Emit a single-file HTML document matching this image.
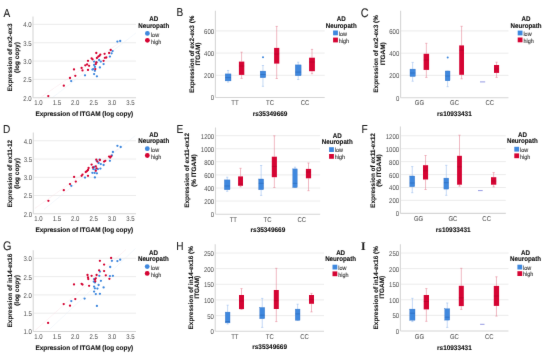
<!DOCTYPE html>
<html><head><meta charset="utf-8"><title>Figure</title>
<style>
html,body{margin:0;padding:0;background:#fff;}
body{width:550px;height:361px;overflow:hidden;font-family:"Liberation Sans",sans-serif;}
svg{display:block;} text{text-rendering:geometricPrecision;}
</style></head>
<body>
<svg width="550" height="361" viewBox="0 0 550 361">
<defs><filter id="bl" color-interpolation-filters="sRGB" x="0" y="0" width="100%" height="100%" filterUnits="userSpaceOnUse"><feConvolveMatrix order="3" kernelMatrix="1 14 1 14 196 14 1 14 1" edgeMode="duplicate" preserveAlpha="true"/></filter></defs>
<rect x="0" y="0" width="550" height="361" fill="#fff"/>
<g filter="url(#bl)">
<rect x="0" y="0" width="550" height="361" fill="#fff"/>
<line x1="33.00" y1="24.40" x2="136.00" y2="24.40" stroke="#eaeaea" stroke-width="0.9" />
<line x1="33.00" y1="42.80" x2="136.00" y2="42.80" stroke="#eaeaea" stroke-width="0.9" />
<line x1="33.00" y1="61.10" x2="136.00" y2="61.10" stroke="#eaeaea" stroke-width="0.9" />
<line x1="33.00" y1="79.40" x2="136.00" y2="79.40" stroke="#eaeaea" stroke-width="0.9" />
<line x1="38.50" y1="99.00" x2="120.00" y2="42.40" stroke="#f9e0e5" stroke-width="0.7" stroke-dasharray="0.8 0.6"/>
<line x1="52.00" y1="98.00" x2="135.50" y2="33.30" stroke="#e3ecf8" stroke-width="0.7" stroke-dasharray="0.8 0.6"/>
<line x1="33.00" y1="16.40" x2="33.00" y2="97.80" stroke="#d6d6d6" stroke-width="1.1" />
<line x1="33.00" y1="97.80" x2="136.00" y2="97.80" stroke="#d6d6d6" stroke-width="1.1" />
<text transform="translate(31.70,27.30) scale(1.0,1.17)" x="0" y="0" font-size="6.0" text-anchor="end" font-weight="normal" fill="#545454" stroke="#545454" stroke-width="0.03" font-family="Liberation Sans, sans-serif" >4.0</text>
<text transform="translate(31.70,45.70) scale(1.0,1.17)" x="0" y="0" font-size="6.0" text-anchor="end" font-weight="normal" fill="#545454" stroke="#545454" stroke-width="0.03" font-family="Liberation Sans, sans-serif" >3.5</text>
<text transform="translate(31.70,64.00) scale(1.0,1.17)" x="0" y="0" font-size="6.0" text-anchor="end" font-weight="normal" fill="#545454" stroke="#545454" stroke-width="0.03" font-family="Liberation Sans, sans-serif" >3.0</text>
<text transform="translate(31.70,82.30) scale(1.0,1.17)" x="0" y="0" font-size="6.0" text-anchor="end" font-weight="normal" fill="#545454" stroke="#545454" stroke-width="0.03" font-family="Liberation Sans, sans-serif" >2.5</text>
<text transform="translate(31.70,100.70) scale(1.0,1.17)" x="0" y="0" font-size="6.0" text-anchor="end" font-weight="normal" fill="#545454" stroke="#545454" stroke-width="0.03" font-family="Liberation Sans, sans-serif" >2.0</text>
<text transform="translate(38.40,105.30) scale(1.0,1.17)" x="0" y="0" font-size="6.0" text-anchor="middle" font-weight="normal" fill="#545454" stroke="#545454" stroke-width="0.03" font-family="Liberation Sans, sans-serif" >1.0</text>
<text transform="translate(56.80,105.30) scale(1.0,1.17)" x="0" y="0" font-size="6.0" text-anchor="middle" font-weight="normal" fill="#545454" stroke="#545454" stroke-width="0.03" font-family="Liberation Sans, sans-serif" >1.5</text>
<text transform="translate(75.20,105.30) scale(1.0,1.17)" x="0" y="0" font-size="6.0" text-anchor="middle" font-weight="normal" fill="#545454" stroke="#545454" stroke-width="0.03" font-family="Liberation Sans, sans-serif" >2.0</text>
<text transform="translate(93.60,105.30) scale(1.0,1.17)" x="0" y="0" font-size="6.0" text-anchor="middle" font-weight="normal" fill="#545454" stroke="#545454" stroke-width="0.03" font-family="Liberation Sans, sans-serif" >2.5</text>
<text transform="translate(112.00,105.30) scale(1.0,1.17)" x="0" y="0" font-size="6.0" text-anchor="middle" font-weight="normal" fill="#545454" stroke="#545454" stroke-width="0.03" font-family="Liberation Sans, sans-serif" >3.0</text>
<text transform="translate(130.40,105.30) scale(1.0,1.17)" x="0" y="0" font-size="6.0" text-anchor="middle" font-weight="normal" fill="#545454" stroke="#545454" stroke-width="0.03" font-family="Liberation Sans, sans-serif" >3.5</text>
<text transform="translate(84.30,116.20) scale(1.0,1.04)" x="0" y="0" font-size="6.45" text-anchor="middle" font-weight="bold" fill="#111" stroke="#111" stroke-width="0.1" font-family="Liberation Sans, sans-serif" >Expression of ITGAM (log copy)</text>
<text transform="translate(12.10,57.50) rotate(-90)" x="0" y="0" font-size="6.45" text-anchor="middle" font-weight="bold" fill="#111" stroke="#111" stroke-width="0.1" font-family="Liberation Sans, sans-serif">Expression of ex2-ex3</text>
<text transform="translate(18.60,57.50) rotate(-90)" x="0" y="0" font-size="6.45" text-anchor="middle" font-weight="bold" fill="#111" stroke="#111" stroke-width="0.1" font-family="Liberation Sans, sans-serif">(log copy)</text>
<circle cx="117.4" cy="41.6" r="1.15" fill="#3f88de"/>
<circle cx="120.2" cy="41.0" r="1.15" fill="#3f88de"/>
<circle cx="112.6" cy="51.1" r="1.15" fill="#3f88de"/>
<circle cx="111.6" cy="53.3" r="1.15" fill="#3f88de"/>
<circle cx="109.9" cy="56.6" r="1.15" fill="#3f88de"/>
<circle cx="103.6" cy="64.1" r="1.15" fill="#3f88de"/>
<circle cx="99.9" cy="67.4" r="1.15" fill="#3f88de"/>
<circle cx="100.8" cy="61.6" r="1.15" fill="#3f88de"/>
<circle cx="99.1" cy="60.0" r="1.15" fill="#3f88de"/>
<circle cx="96.6" cy="62.4" r="1.15" fill="#3f88de"/>
<circle cx="94.1" cy="61.6" r="1.15" fill="#3f88de"/>
<circle cx="94.1" cy="65.0" r="1.15" fill="#3f88de"/>
<circle cx="93.3" cy="69.1" r="1.15" fill="#3f88de"/>
<circle cx="92.4" cy="69.6" r="1.15" fill="#3f88de"/>
<circle cx="94.9" cy="70.8" r="1.15" fill="#3f88de"/>
<circle cx="94.1" cy="74.1" r="1.15" fill="#3f88de"/>
<circle cx="96.9" cy="76.3" r="1.15" fill="#3f88de"/>
<circle cx="94.9" cy="66.9" r="1.15" fill="#3f88de"/>
<circle cx="85.0" cy="75.3" r="1.15" fill="#3f88de"/>
<circle cx="71.2" cy="81.1" r="1.15" fill="#3f88de"/>
<circle cx="48.3" cy="96.1" r="1.15" fill="#d50433"/>
<circle cx="63.8" cy="85.7" r="1.15" fill="#d50433"/>
<circle cx="70.0" cy="78.0" r="1.15" fill="#d50433"/>
<circle cx="75.3" cy="75.8" r="1.15" fill="#d50433"/>
<circle cx="74.0" cy="69.4" r="1.15" fill="#d50433"/>
<circle cx="81.6" cy="67.9" r="1.15" fill="#d50433"/>
<circle cx="82.5" cy="70.4" r="1.15" fill="#d50433"/>
<circle cx="85.3" cy="65.3" r="1.15" fill="#d50433"/>
<circle cx="87.1" cy="64.4" r="1.15" fill="#d50433"/>
<circle cx="88.0" cy="60.8" r="1.15" fill="#d50433"/>
<circle cx="89.1" cy="65.8" r="1.15" fill="#d50433"/>
<circle cx="88.0" cy="69.9" r="1.15" fill="#d50433"/>
<circle cx="91.6" cy="58.3" r="1.15" fill="#d50433"/>
<circle cx="92.6" cy="59.3" r="1.15" fill="#d50433"/>
<circle cx="96.3" cy="53.0" r="1.15" fill="#d50433"/>
<circle cx="96.9" cy="58.0" r="1.15" fill="#d50433"/>
<circle cx="96.3" cy="62.4" r="1.15" fill="#d50433"/>
<circle cx="95.3" cy="69.1" r="1.15" fill="#d50433"/>
<circle cx="95.8" cy="64.1" r="1.15" fill="#d50433"/>
<circle cx="99.4" cy="55.8" r="1.15" fill="#d50433"/>
<circle cx="100.3" cy="54.6" r="1.15" fill="#d50433"/>
<circle cx="104.6" cy="53.8" r="1.15" fill="#d50433"/>
<circle cx="104.9" cy="57.8" r="1.15" fill="#d50433"/>
<circle cx="103.6" cy="60.8" r="1.15" fill="#d50433"/>
<circle cx="106.3" cy="57.5" r="1.15" fill="#d50433"/>
<circle cx="109.1" cy="53.0" r="1.15" fill="#d50433"/>
<circle cx="110.7" cy="50.0" r="1.15" fill="#d50433"/>
<circle cx="98.3" cy="56.6" r="1.15" fill="#d50433"/>
<text transform="translate(153.70,21.20) scale(1.0,1.1)" x="0" y="0" font-size="6.2" text-anchor="middle" font-weight="bold" fill="#111" stroke="#111" stroke-width="0.1" font-family="Liberation Sans, sans-serif" >AD</text>
<text transform="translate(153.70,27.50) scale(1.0,1.1)" x="0" y="0" font-size="6.2" text-anchor="middle" font-weight="bold" fill="#111" stroke="#111" stroke-width="0.1" font-family="Liberation Sans, sans-serif" >Neuropath</text>
<circle cx="147.40" cy="33.40" r="2.4" fill="#3f88de"/>
<circle cx="147.40" cy="40.30" r="2.4" fill="#d50433"/>
<text transform="translate(150.90,36.60) scale(1.0,1.1)" x="0" y="0" font-size="5.45" text-anchor="start" font-weight="normal" fill="#333" stroke="#333" stroke-width="0.1" font-family="Liberation Sans, sans-serif" >low</text>
<text transform="translate(150.90,43.50) scale(1.0,1.1)" x="0" y="0" font-size="5.45" text-anchor="start" font-weight="normal" fill="#333" stroke="#333" stroke-width="0.1" font-family="Liberation Sans, sans-serif" >high</text>
<text transform="translate(3.50,16.50) scale(0.87,1.0)" x="0" y="0" font-size="11.6" text-anchor="start" font-weight="normal" fill="#222" stroke="#222" stroke-width="0.1" font-family="Liberation Sans, sans-serif" >A</text>
<line x1="33.30" y1="140.80" x2="136.00" y2="140.80" stroke="#eaeaea" stroke-width="0.9" />
<line x1="33.30" y1="159.00" x2="136.00" y2="159.00" stroke="#eaeaea" stroke-width="0.9" />
<line x1="33.30" y1="177.30" x2="136.00" y2="177.30" stroke="#eaeaea" stroke-width="0.9" />
<line x1="33.30" y1="195.50" x2="136.00" y2="195.50" stroke="#eaeaea" stroke-width="0.9" />
<line x1="35.20" y1="208.20" x2="118.00" y2="149.00" stroke="#f9e0e5" stroke-width="0.7" stroke-dasharray="0.8 0.6"/>
<line x1="44.10" y1="209.30" x2="135.50" y2="135.50" stroke="#e3ecf8" stroke-width="0.7" stroke-dasharray="0.8 0.6"/>
<line x1="33.30" y1="132.50" x2="33.30" y2="213.80" stroke="#d6d6d6" stroke-width="1.1" />
<line x1="33.30" y1="213.80" x2="136.00" y2="213.80" stroke="#d6d6d6" stroke-width="1.1" />
<text transform="translate(32.00,143.70) scale(1.0,1.17)" x="0" y="0" font-size="6.0" text-anchor="end" font-weight="normal" fill="#545454" stroke="#545454" stroke-width="0.03" font-family="Liberation Sans, sans-serif" >4.0</text>
<text transform="translate(32.00,161.90) scale(1.0,1.17)" x="0" y="0" font-size="6.0" text-anchor="end" font-weight="normal" fill="#545454" stroke="#545454" stroke-width="0.03" font-family="Liberation Sans, sans-serif" >3.5</text>
<text transform="translate(32.00,180.20) scale(1.0,1.17)" x="0" y="0" font-size="6.0" text-anchor="end" font-weight="normal" fill="#545454" stroke="#545454" stroke-width="0.03" font-family="Liberation Sans, sans-serif" >3.0</text>
<text transform="translate(32.00,198.40) scale(1.0,1.17)" x="0" y="0" font-size="6.0" text-anchor="end" font-weight="normal" fill="#545454" stroke="#545454" stroke-width="0.03" font-family="Liberation Sans, sans-serif" >2.5</text>
<text transform="translate(32.00,216.70) scale(1.0,1.17)" x="0" y="0" font-size="6.0" text-anchor="end" font-weight="normal" fill="#545454" stroke="#545454" stroke-width="0.03" font-family="Liberation Sans, sans-serif" >2.0</text>
<text transform="translate(38.40,221.30) scale(1.0,1.17)" x="0" y="0" font-size="6.0" text-anchor="middle" font-weight="normal" fill="#545454" stroke="#545454" stroke-width="0.03" font-family="Liberation Sans, sans-serif" >1.0</text>
<text transform="translate(56.80,221.30) scale(1.0,1.17)" x="0" y="0" font-size="6.0" text-anchor="middle" font-weight="normal" fill="#545454" stroke="#545454" stroke-width="0.03" font-family="Liberation Sans, sans-serif" >1.5</text>
<text transform="translate(75.20,221.30) scale(1.0,1.17)" x="0" y="0" font-size="6.0" text-anchor="middle" font-weight="normal" fill="#545454" stroke="#545454" stroke-width="0.03" font-family="Liberation Sans, sans-serif" >2.0</text>
<text transform="translate(93.60,221.30) scale(1.0,1.17)" x="0" y="0" font-size="6.0" text-anchor="middle" font-weight="normal" fill="#545454" stroke="#545454" stroke-width="0.03" font-family="Liberation Sans, sans-serif" >2.5</text>
<text transform="translate(112.00,221.30) scale(1.0,1.17)" x="0" y="0" font-size="6.0" text-anchor="middle" font-weight="normal" fill="#545454" stroke="#545454" stroke-width="0.03" font-family="Liberation Sans, sans-serif" >3.0</text>
<text transform="translate(130.40,221.30) scale(1.0,1.17)" x="0" y="0" font-size="6.0" text-anchor="middle" font-weight="normal" fill="#545454" stroke="#545454" stroke-width="0.03" font-family="Liberation Sans, sans-serif" >3.5</text>
<text transform="translate(84.30,232.20) scale(1.0,1.04)" x="0" y="0" font-size="6.45" text-anchor="middle" font-weight="bold" fill="#111" stroke="#111" stroke-width="0.1" font-family="Liberation Sans, sans-serif" >Expression of ITGAM (log copy)</text>
<text transform="translate(12.10,173.70) rotate(-90)" x="0" y="0" font-size="6.45" text-anchor="middle" font-weight="bold" fill="#111" stroke="#111" stroke-width="0.1" font-family="Liberation Sans, sans-serif">Expression of ex11-12</text>
<text transform="translate(18.80,173.40) rotate(-90)" x="0" y="0" font-size="6.45" text-anchor="middle" font-weight="bold" fill="#111" stroke="#111" stroke-width="0.1" font-family="Liberation Sans, sans-serif">(log copy)</text>
<circle cx="117.4" cy="145.8" r="1.15" fill="#3f88de"/>
<circle cx="120.7" cy="147.0" r="1.15" fill="#3f88de"/>
<circle cx="112.9" cy="152.0" r="1.15" fill="#3f88de"/>
<circle cx="111.9" cy="155.3" r="1.15" fill="#3f88de"/>
<circle cx="109.9" cy="160.8" r="1.15" fill="#3f88de"/>
<circle cx="103.6" cy="165.0" r="1.15" fill="#3f88de"/>
<circle cx="100.8" cy="164.1" r="1.15" fill="#3f88de"/>
<circle cx="99.6" cy="159.6" r="1.15" fill="#3f88de"/>
<circle cx="96.6" cy="160.8" r="1.15" fill="#3f88de"/>
<circle cx="94.1" cy="167.0" r="1.15" fill="#3f88de"/>
<circle cx="93.3" cy="169.1" r="1.15" fill="#3f88de"/>
<circle cx="95.3" cy="169.6" r="1.15" fill="#3f88de"/>
<circle cx="97.9" cy="169.1" r="1.15" fill="#3f88de"/>
<circle cx="100.4" cy="168.6" r="1.15" fill="#3f88de"/>
<circle cx="92.4" cy="172.8" r="1.15" fill="#3f88de"/>
<circle cx="94.6" cy="172.9" r="1.15" fill="#3f88de"/>
<circle cx="96.9" cy="173.3" r="1.15" fill="#3f88de"/>
<circle cx="94.9" cy="177.4" r="1.15" fill="#3f88de"/>
<circle cx="85.0" cy="177.6" r="1.15" fill="#3f88de"/>
<circle cx="71.3" cy="185.8" r="1.15" fill="#3f88de"/>
<circle cx="98.6" cy="163.0" r="1.15" fill="#3f88de"/>
<circle cx="48.4" cy="200.8" r="1.15" fill="#d50433"/>
<circle cx="63.8" cy="190.2" r="1.15" fill="#d50433"/>
<circle cx="70.0" cy="184.1" r="1.15" fill="#d50433"/>
<circle cx="75.8" cy="181.6" r="1.15" fill="#d50433"/>
<circle cx="74.1" cy="176.9" r="1.15" fill="#d50433"/>
<circle cx="81.6" cy="175.8" r="1.15" fill="#d50433"/>
<circle cx="82.5" cy="174.6" r="1.15" fill="#d50433"/>
<circle cx="85.8" cy="172.0" r="1.15" fill="#d50433"/>
<circle cx="87.0" cy="171.1" r="1.15" fill="#d50433"/>
<circle cx="88.0" cy="170.0" r="1.15" fill="#d50433"/>
<circle cx="88.6" cy="168.0" r="1.15" fill="#d50433"/>
<circle cx="88.0" cy="175.8" r="1.15" fill="#d50433"/>
<circle cx="91.6" cy="164.6" r="1.15" fill="#d50433"/>
<circle cx="92.9" cy="167.5" r="1.15" fill="#d50433"/>
<circle cx="95.8" cy="166.3" r="1.15" fill="#d50433"/>
<circle cx="96.6" cy="168.3" r="1.15" fill="#d50433"/>
<circle cx="95.8" cy="170.8" r="1.15" fill="#d50433"/>
<circle cx="96.3" cy="159.6" r="1.15" fill="#d50433"/>
<circle cx="97.4" cy="161.6" r="1.15" fill="#d50433"/>
<circle cx="99.9" cy="160.0" r="1.15" fill="#d50433"/>
<circle cx="104.1" cy="161.6" r="1.15" fill="#d50433"/>
<circle cx="105.3" cy="160.8" r="1.15" fill="#d50433"/>
<circle cx="109.1" cy="156.6" r="1.15" fill="#d50433"/>
<circle cx="110.2" cy="157.5" r="1.15" fill="#d50433"/>
<circle cx="111.2" cy="156.3" r="1.15" fill="#d50433"/>
<text transform="translate(153.70,136.90) scale(1.0,1.1)" x="0" y="0" font-size="6.2" text-anchor="middle" font-weight="bold" fill="#111" stroke="#111" stroke-width="0.1" font-family="Liberation Sans, sans-serif" >AD</text>
<text transform="translate(153.70,143.20) scale(1.0,1.1)" x="0" y="0" font-size="6.2" text-anchor="middle" font-weight="bold" fill="#111" stroke="#111" stroke-width="0.1" font-family="Liberation Sans, sans-serif" >Neuropath</text>
<circle cx="147.30" cy="148.70" r="2.4" fill="#3f88de"/>
<circle cx="147.30" cy="155.50" r="2.4" fill="#d50433"/>
<text transform="translate(150.90,151.90) scale(1.0,1.1)" x="0" y="0" font-size="5.45" text-anchor="start" font-weight="normal" fill="#333" stroke="#333" stroke-width="0.1" font-family="Liberation Sans, sans-serif" >low</text>
<text transform="translate(150.90,158.70) scale(1.0,1.1)" x="0" y="0" font-size="5.45" text-anchor="start" font-weight="normal" fill="#333" stroke="#333" stroke-width="0.1" font-family="Liberation Sans, sans-serif" >high</text>
<text transform="translate(3.00,133.40) scale(0.87,1.0)" x="0" y="0" font-size="11.6" text-anchor="start" font-weight="normal" fill="#222" stroke="#222" stroke-width="0.1" font-family="Liberation Sans, sans-serif" >D</text>
<line x1="33.20" y1="258.30" x2="136.00" y2="258.30" stroke="#eaeaea" stroke-width="0.9" />
<line x1="33.20" y1="276.60" x2="136.00" y2="276.60" stroke="#eaeaea" stroke-width="0.9" />
<line x1="33.20" y1="294.90" x2="136.00" y2="294.90" stroke="#eaeaea" stroke-width="0.9" />
<line x1="33.20" y1="313.20" x2="136.00" y2="313.20" stroke="#eaeaea" stroke-width="0.9" />
<line x1="35.20" y1="330.40" x2="126.00" y2="249.50" stroke="#f9e0e5" stroke-width="0.7" stroke-dasharray="0.8 0.6"/>
<line x1="49.60" y1="329.30" x2="135.50" y2="248.50" stroke="#e3ecf8" stroke-width="0.7" stroke-dasharray="0.8 0.6"/>
<line x1="33.20" y1="250.20" x2="33.20" y2="331.50" stroke="#d6d6d6" stroke-width="1.1" />
<line x1="33.20" y1="331.50" x2="136.00" y2="331.50" stroke="#d6d6d6" stroke-width="1.1" />
<text transform="translate(31.90,261.20) scale(1.0,1.17)" x="0" y="0" font-size="6.0" text-anchor="end" font-weight="normal" fill="#545454" stroke="#545454" stroke-width="0.03" font-family="Liberation Sans, sans-serif" >3.0</text>
<text transform="translate(31.90,279.50) scale(1.0,1.17)" x="0" y="0" font-size="6.0" text-anchor="end" font-weight="normal" fill="#545454" stroke="#545454" stroke-width="0.03" font-family="Liberation Sans, sans-serif" >2.5</text>
<text transform="translate(31.90,297.80) scale(1.0,1.17)" x="0" y="0" font-size="6.0" text-anchor="end" font-weight="normal" fill="#545454" stroke="#545454" stroke-width="0.03" font-family="Liberation Sans, sans-serif" >2.0</text>
<text transform="translate(31.90,316.10) scale(1.0,1.17)" x="0" y="0" font-size="6.0" text-anchor="end" font-weight="normal" fill="#545454" stroke="#545454" stroke-width="0.03" font-family="Liberation Sans, sans-serif" >1.5</text>
<text transform="translate(31.90,334.40) scale(1.0,1.17)" x="0" y="0" font-size="6.0" text-anchor="end" font-weight="normal" fill="#545454" stroke="#545454" stroke-width="0.03" font-family="Liberation Sans, sans-serif" >1.0</text>
<text transform="translate(38.40,339.10) scale(1.0,1.17)" x="0" y="0" font-size="6.0" text-anchor="middle" font-weight="normal" fill="#545454" stroke="#545454" stroke-width="0.03" font-family="Liberation Sans, sans-serif" >1.0</text>
<text transform="translate(56.80,339.10) scale(1.0,1.17)" x="0" y="0" font-size="6.0" text-anchor="middle" font-weight="normal" fill="#545454" stroke="#545454" stroke-width="0.03" font-family="Liberation Sans, sans-serif" >1.5</text>
<text transform="translate(75.20,339.10) scale(1.0,1.17)" x="0" y="0" font-size="6.0" text-anchor="middle" font-weight="normal" fill="#545454" stroke="#545454" stroke-width="0.03" font-family="Liberation Sans, sans-serif" >2.0</text>
<text transform="translate(93.60,339.10) scale(1.0,1.17)" x="0" y="0" font-size="6.0" text-anchor="middle" font-weight="normal" fill="#545454" stroke="#545454" stroke-width="0.03" font-family="Liberation Sans, sans-serif" >2.5</text>
<text transform="translate(112.00,339.10) scale(1.0,1.17)" x="0" y="0" font-size="6.0" text-anchor="middle" font-weight="normal" fill="#545454" stroke="#545454" stroke-width="0.03" font-family="Liberation Sans, sans-serif" >3.0</text>
<text transform="translate(130.40,339.10) scale(1.0,1.17)" x="0" y="0" font-size="6.0" text-anchor="middle" font-weight="normal" fill="#545454" stroke="#545454" stroke-width="0.03" font-family="Liberation Sans, sans-serif" >3.5</text>
<text transform="translate(84.30,350.00) scale(1.0,1.04)" x="0" y="0" font-size="6.45" text-anchor="middle" font-weight="bold" fill="#111" stroke="#111" stroke-width="0.1" font-family="Liberation Sans, sans-serif" >Expression of ITGAM (log copy)</text>
<text transform="translate(12.10,290.60) rotate(-90)" x="0" y="0" font-size="6.45" text-anchor="middle" font-weight="bold" fill="#111" stroke="#111" stroke-width="0.1" font-family="Liberation Sans, sans-serif">Expression of in14-ex16</text>
<text transform="translate(18.50,290.40) rotate(-90)" x="0" y="0" font-size="6.45" text-anchor="middle" font-weight="bold" fill="#111" stroke="#111" stroke-width="0.1" font-family="Liberation Sans, sans-serif">(log copy)</text>
<circle cx="120.2" cy="259.7" r="1.15" fill="#3f88de"/>
<circle cx="117.4" cy="261.1" r="1.15" fill="#3f88de"/>
<circle cx="111.9" cy="260.8" r="1.15" fill="#3f88de"/>
<circle cx="110.2" cy="267.0" r="1.15" fill="#3f88de"/>
<circle cx="112.9" cy="275.8" r="1.15" fill="#3f88de"/>
<circle cx="109.9" cy="276.1" r="1.15" fill="#3f88de"/>
<circle cx="99.9" cy="271.6" r="1.15" fill="#3f88de"/>
<circle cx="99.3" cy="275.8" r="1.15" fill="#3f88de"/>
<circle cx="94.1" cy="279.1" r="1.15" fill="#3f88de"/>
<circle cx="93.8" cy="281.6" r="1.15" fill="#3f88de"/>
<circle cx="94.9" cy="282.4" r="1.15" fill="#3f88de"/>
<circle cx="100.9" cy="280.8" r="1.15" fill="#3f88de"/>
<circle cx="98.6" cy="285.0" r="1.15" fill="#3f88de"/>
<circle cx="94.1" cy="286.6" r="1.15" fill="#3f88de"/>
<circle cx="94.9" cy="288.3" r="1.15" fill="#3f88de"/>
<circle cx="97.4" cy="288.6" r="1.15" fill="#3f88de"/>
<circle cx="103.6" cy="287.4" r="1.15" fill="#3f88de"/>
<circle cx="94.1" cy="291.6" r="1.15" fill="#3f88de"/>
<circle cx="95.8" cy="294.1" r="1.15" fill="#3f88de"/>
<circle cx="99.9" cy="293.8" r="1.15" fill="#3f88de"/>
<circle cx="84.6" cy="298.6" r="1.15" fill="#3f88de"/>
<circle cx="71.3" cy="301.1" r="1.15" fill="#3f88de"/>
<circle cx="96.9" cy="305.9" r="1.15" fill="#3f88de"/>
<circle cx="111.1" cy="258.0" r="1.15" fill="#d50433"/>
<circle cx="99.9" cy="260.8" r="1.15" fill="#d50433"/>
<circle cx="104.1" cy="264.6" r="1.15" fill="#d50433"/>
<circle cx="99.1" cy="270.3" r="1.15" fill="#d50433"/>
<circle cx="104.1" cy="271.1" r="1.15" fill="#d50433"/>
<circle cx="105.8" cy="275.3" r="1.15" fill="#d50433"/>
<circle cx="109.4" cy="278.8" r="1.15" fill="#d50433"/>
<circle cx="96.6" cy="275.0" r="1.15" fill="#d50433"/>
<circle cx="91.6" cy="275.8" r="1.15" fill="#d50433"/>
<circle cx="87.5" cy="275.0" r="1.15" fill="#d50433"/>
<circle cx="88.0" cy="277.5" r="1.15" fill="#d50433"/>
<circle cx="88.3" cy="279.1" r="1.15" fill="#d50433"/>
<circle cx="95.8" cy="278.3" r="1.15" fill="#d50433"/>
<circle cx="94.9" cy="279.6" r="1.15" fill="#d50433"/>
<circle cx="95.3" cy="281.3" r="1.15" fill="#d50433"/>
<circle cx="81.6" cy="283.8" r="1.15" fill="#d50433"/>
<circle cx="82.5" cy="284.6" r="1.15" fill="#d50433"/>
<circle cx="74.0" cy="284.4" r="1.15" fill="#d50433"/>
<circle cx="89.1" cy="285.8" r="1.15" fill="#d50433"/>
<circle cx="75.3" cy="299.1" r="1.15" fill="#d50433"/>
<circle cx="70.0" cy="305.7" r="1.15" fill="#d50433"/>
<circle cx="63.7" cy="304.1" r="1.15" fill="#d50433"/>
<circle cx="48.1" cy="322.9" r="1.15" fill="#d50433"/>
<text transform="translate(153.40,255.00) scale(1.0,1.1)" x="0" y="0" font-size="6.2" text-anchor="middle" font-weight="bold" fill="#111" stroke="#111" stroke-width="0.1" font-family="Liberation Sans, sans-serif" >AD</text>
<text transform="translate(153.40,261.00) scale(1.0,1.1)" x="0" y="0" font-size="6.2" text-anchor="middle" font-weight="bold" fill="#111" stroke="#111" stroke-width="0.1" font-family="Liberation Sans, sans-serif" >Neuropath</text>
<circle cx="147.20" cy="266.60" r="2.4" fill="#3f88de"/>
<circle cx="147.20" cy="273.40" r="2.4" fill="#d50433"/>
<text transform="translate(150.90,269.80) scale(1.0,1.1)" x="0" y="0" font-size="5.45" text-anchor="start" font-weight="normal" fill="#333" stroke="#333" stroke-width="0.1" font-family="Liberation Sans, sans-serif" >low</text>
<text transform="translate(150.90,276.60) scale(1.0,1.1)" x="0" y="0" font-size="5.45" text-anchor="start" font-weight="normal" fill="#333" stroke="#333" stroke-width="0.1" font-family="Liberation Sans, sans-serif" >high</text>
<text transform="translate(3.00,250.40) scale(0.87,1.0)" x="0" y="0" font-size="12.5" text-anchor="start" font-weight="normal" fill="#222" stroke="#222" stroke-width="0.1" font-family="Liberation Sans, sans-serif" >G</text>
<line x1="215.40" y1="30.90" x2="324.70" y2="30.90" stroke="#eaeaea" stroke-width="0.9" />
<line x1="215.40" y1="53.10" x2="324.70" y2="53.10" stroke="#eaeaea" stroke-width="0.9" />
<line x1="215.40" y1="75.30" x2="324.70" y2="75.30" stroke="#eaeaea" stroke-width="0.9" />
<line x1="215.40" y1="10.80" x2="215.40" y2="97.50" stroke="#d6d6d6" stroke-width="1.1" />
<line x1="215.40" y1="97.50" x2="324.70" y2="97.50" stroke="#d6d6d6" stroke-width="1.1" />
<text transform="translate(214.10,33.80) scale(1.0,1.17)" x="0" y="0" font-size="6.0" text-anchor="end" font-weight="normal" fill="#545454" stroke="#545454" stroke-width="0.03" font-family="Liberation Sans, sans-serif" >600</text>
<text transform="translate(214.10,56.00) scale(1.0,1.17)" x="0" y="0" font-size="6.0" text-anchor="end" font-weight="normal" fill="#545454" stroke="#545454" stroke-width="0.03" font-family="Liberation Sans, sans-serif" >400</text>
<text transform="translate(214.10,78.20) scale(1.0,1.17)" x="0" y="0" font-size="6.0" text-anchor="end" font-weight="normal" fill="#545454" stroke="#545454" stroke-width="0.03" font-family="Liberation Sans, sans-serif" >200</text>
<text transform="translate(214.10,100.40) scale(1.0,1.17)" x="0" y="0" font-size="6.0" text-anchor="end" font-weight="normal" fill="#545454" stroke="#545454" stroke-width="0.03" font-family="Liberation Sans, sans-serif" >0</text>
<text transform="translate(235.00,104.90) scale(1.0,1.17)" x="0" y="0" font-size="6.0" text-anchor="middle" font-weight="normal" fill="#545454" stroke="#545454" stroke-width="0.03" font-family="Liberation Sans, sans-serif" >TT</text>
<text transform="translate(270.00,104.90) scale(1.0,1.17)" x="0" y="0" font-size="6.0" text-anchor="middle" font-weight="normal" fill="#545454" stroke="#545454" stroke-width="0.03" font-family="Liberation Sans, sans-serif" >TC</text>
<text transform="translate(305.00,104.90) scale(1.0,1.17)" x="0" y="0" font-size="6.0" text-anchor="middle" font-weight="normal" fill="#545454" stroke="#545454" stroke-width="0.03" font-family="Liberation Sans, sans-serif" >CC</text>
<text transform="translate(270.00,115.60) scale(1.0,1.04)" x="0" y="0" font-size="6.45" text-anchor="middle" font-weight="bold" fill="#111" stroke="#111" stroke-width="0.1" font-family="Liberation Sans, sans-serif" >rs35349669</text>
<text transform="translate(193.60,54.30) rotate(-90)" x="0" y="0" font-size="6.45" text-anchor="middle" font-weight="bold" fill="#111" stroke="#111" stroke-width="0.1" font-family="Liberation Sans, sans-serif">Expression of ex2-ex3 (%</text>
<text transform="translate(200.00,54.00) rotate(-90)" x="0" y="0" font-size="6.45" text-anchor="middle" font-weight="bold" fill="#111" stroke="#111" stroke-width="0.1" font-family="Liberation Sans, sans-serif">ITGAM)</text>
<line x1="228.10" y1="70.50" x2="228.10" y2="73.90" stroke="#9dbfee" stroke-width="0.6" />
<line x1="228.10" y1="80.90" x2="228.10" y2="82.10" stroke="#9dbfee" stroke-width="0.6" />
<line x1="227.00" y1="70.50" x2="229.20" y2="70.50" stroke="#9dbfee" stroke-width="0.6" />
<line x1="227.00" y1="82.10" x2="229.20" y2="82.10" stroke="#9dbfee" stroke-width="0.6" />
<rect x="225.20" y="73.90" width="5.80" height="7.00" fill="#3f88de" stroke="#2f70c4" stroke-width="0.35"/>
<line x1="225.20" y1="77.60" x2="231.00" y2="77.60" stroke="#1d4f9a80" stroke-width="0.7" />
<line x1="241.60" y1="52.20" x2="241.60" y2="61.60" stroke="#e58a9b" stroke-width="0.6" />
<line x1="241.60" y1="74.90" x2="241.60" y2="78.40" stroke="#e58a9b" stroke-width="0.6" />
<line x1="240.50" y1="52.20" x2="242.70" y2="52.20" stroke="#e58a9b" stroke-width="0.6" />
<line x1="240.50" y1="78.40" x2="242.70" y2="78.40" stroke="#e58a9b" stroke-width="0.6" />
<rect x="238.90" y="61.60" width="5.40" height="13.30" fill="#d50433" />
<line x1="238.90" y1="66.00" x2="244.30" y2="66.00" stroke="#7a001c55" stroke-width="0.7" />
<line x1="262.95" y1="65.50" x2="262.95" y2="71.10" stroke="#9dbfee" stroke-width="0.6" />
<line x1="262.95" y1="77.70" x2="262.95" y2="86.30" stroke="#9dbfee" stroke-width="0.6" />
<line x1="261.85" y1="65.50" x2="264.05" y2="65.50" stroke="#9dbfee" stroke-width="0.6" />
<line x1="261.85" y1="86.30" x2="264.05" y2="86.30" stroke="#9dbfee" stroke-width="0.6" />
<rect x="260.20" y="71.10" width="5.50" height="6.60" fill="#3f88de" stroke="#2f70c4" stroke-width="0.35"/>
<line x1="260.20" y1="74.50" x2="265.70" y2="74.50" stroke="#1d4f9a80" stroke-width="0.7" />
<circle cx="263.0" cy="57.2" r="1.0" fill="#3f88de"/>
<line x1="276.70" y1="26.40" x2="276.70" y2="47.90" stroke="#e58a9b" stroke-width="0.6" />
<line x1="276.70" y1="63.60" x2="276.70" y2="78.50" stroke="#e58a9b" stroke-width="0.6" />
<line x1="275.60" y1="26.40" x2="277.80" y2="26.40" stroke="#e58a9b" stroke-width="0.6" />
<line x1="275.60" y1="78.50" x2="277.80" y2="78.50" stroke="#e58a9b" stroke-width="0.6" />
<rect x="274.10" y="47.90" width="5.20" height="15.70" fill="#d50433" />
<line x1="274.10" y1="54.00" x2="279.30" y2="54.00" stroke="#7a001c55" stroke-width="0.7" />
<line x1="298.20" y1="62.20" x2="298.20" y2="64.90" stroke="#9dbfee" stroke-width="0.6" />
<line x1="298.20" y1="75.70" x2="298.20" y2="79.50" stroke="#9dbfee" stroke-width="0.6" />
<line x1="297.10" y1="62.20" x2="299.30" y2="62.20" stroke="#9dbfee" stroke-width="0.6" />
<line x1="297.10" y1="79.50" x2="299.30" y2="79.50" stroke="#9dbfee" stroke-width="0.6" />
<rect x="295.30" y="64.90" width="5.80" height="10.80" fill="#3f88de" stroke="#2f70c4" stroke-width="0.35"/>
<line x1="295.30" y1="72.10" x2="301.10" y2="72.10" stroke="#1d4f9a80" stroke-width="0.7" />
<line x1="312.00" y1="49.40" x2="312.00" y2="57.70" stroke="#e58a9b" stroke-width="0.6" />
<line x1="312.00" y1="71.20" x2="312.00" y2="73.70" stroke="#e58a9b" stroke-width="0.6" />
<line x1="310.90" y1="49.40" x2="313.10" y2="49.40" stroke="#e58a9b" stroke-width="0.6" />
<line x1="310.90" y1="73.70" x2="313.10" y2="73.70" stroke="#e58a9b" stroke-width="0.6" />
<rect x="309.10" y="57.70" width="5.80" height="13.50" fill="#d50433" />
<line x1="309.10" y1="62.00" x2="314.90" y2="62.00" stroke="#7a001c55" stroke-width="0.7" />
<text transform="translate(341.20,21.20) scale(1.0,1.1)" x="0" y="0" font-size="6.2" text-anchor="middle" font-weight="bold" fill="#111" stroke="#111" stroke-width="0.1" font-family="Liberation Sans, sans-serif" >AD</text>
<text transform="translate(341.20,27.50) scale(1.0,1.1)" x="0" y="0" font-size="6.2" text-anchor="middle" font-weight="bold" fill="#111" stroke="#111" stroke-width="0.1" font-family="Liberation Sans, sans-serif" >Neuropath</text>
<rect x="333.10" y="30.50" width="4.80" height="4.80" fill="#3f88de" />
<rect x="333.10" y="37.60" width="4.80" height="4.80" fill="#d50433" />
<text transform="translate(338.80,35.60) scale(1.0,1.1)" x="0" y="0" font-size="5.45" text-anchor="start" font-weight="normal" fill="#333" stroke="#333" stroke-width="0.1" font-family="Liberation Sans, sans-serif" >low</text>
<text transform="translate(338.80,42.70) scale(1.0,1.1)" x="0" y="0" font-size="5.45" text-anchor="start" font-weight="normal" fill="#333" stroke="#333" stroke-width="0.1" font-family="Liberation Sans, sans-serif" >high</text>
<text transform="translate(176.60,16.10) scale(0.87,1.0)" x="0" y="0" font-size="11.6" text-anchor="start" font-weight="normal" fill="#222" stroke="#222" stroke-width="0.1" font-family="Liberation Sans, sans-serif" >B</text>
<line x1="400.60" y1="30.90" x2="508.50" y2="30.90" stroke="#eaeaea" stroke-width="0.9" />
<line x1="400.60" y1="53.20" x2="508.50" y2="53.20" stroke="#eaeaea" stroke-width="0.9" />
<line x1="400.60" y1="75.40" x2="508.50" y2="75.40" stroke="#eaeaea" stroke-width="0.9" />
<line x1="400.60" y1="10.80" x2="400.60" y2="97.70" stroke="#d6d6d6" stroke-width="1.1" />
<line x1="400.60" y1="97.70" x2="508.50" y2="97.70" stroke="#d6d6d6" stroke-width="1.1" />
<text transform="translate(399.30,33.80) scale(1.0,1.17)" x="0" y="0" font-size="6.0" text-anchor="end" font-weight="normal" fill="#545454" stroke="#545454" stroke-width="0.03" font-family="Liberation Sans, sans-serif" >600</text>
<text transform="translate(399.30,56.10) scale(1.0,1.17)" x="0" y="0" font-size="6.0" text-anchor="end" font-weight="normal" fill="#545454" stroke="#545454" stroke-width="0.03" font-family="Liberation Sans, sans-serif" >400</text>
<text transform="translate(399.30,78.30) scale(1.0,1.17)" x="0" y="0" font-size="6.0" text-anchor="end" font-weight="normal" fill="#545454" stroke="#545454" stroke-width="0.03" font-family="Liberation Sans, sans-serif" >200</text>
<text transform="translate(399.30,100.60) scale(1.0,1.17)" x="0" y="0" font-size="6.0" text-anchor="end" font-weight="normal" fill="#545454" stroke="#545454" stroke-width="0.03" font-family="Liberation Sans, sans-serif" >0</text>
<text transform="translate(419.50,104.90) scale(1.0,1.17)" x="0" y="0" font-size="6.0" text-anchor="middle" font-weight="normal" fill="#545454" stroke="#545454" stroke-width="0.03" font-family="Liberation Sans, sans-serif" >GG</text>
<text transform="translate(454.50,104.90) scale(1.0,1.17)" x="0" y="0" font-size="6.0" text-anchor="middle" font-weight="normal" fill="#545454" stroke="#545454" stroke-width="0.03" font-family="Liberation Sans, sans-serif" >GC</text>
<text transform="translate(489.80,104.90) scale(1.0,1.17)" x="0" y="0" font-size="6.0" text-anchor="middle" font-weight="normal" fill="#545454" stroke="#545454" stroke-width="0.03" font-family="Liberation Sans, sans-serif" >CC</text>
<text transform="translate(454.40,116.00) scale(1.0,1.04)" x="0" y="0" font-size="6.45" text-anchor="middle" font-weight="bold" fill="#111" stroke="#111" stroke-width="0.1" font-family="Liberation Sans, sans-serif" >rs10933431</text>
<text transform="translate(378.40,53.90) rotate(-90)" x="0" y="0" font-size="6.45" text-anchor="middle" font-weight="bold" fill="#111" stroke="#111" stroke-width="0.1" font-family="Liberation Sans, sans-serif">Expression of ex2-ex3 (%</text>
<text transform="translate(384.80,53.70) rotate(-90)" x="0" y="0" font-size="6.45" text-anchor="middle" font-weight="bold" fill="#111" stroke="#111" stroke-width="0.1" font-family="Liberation Sans, sans-serif">ITGAM)</text>
<line x1="412.65" y1="62.40" x2="412.65" y2="69.10" stroke="#9dbfee" stroke-width="0.6" />
<line x1="412.65" y1="76.50" x2="412.65" y2="81.20" stroke="#9dbfee" stroke-width="0.6" />
<line x1="411.55" y1="62.40" x2="413.75" y2="62.40" stroke="#9dbfee" stroke-width="0.6" />
<line x1="411.55" y1="81.20" x2="413.75" y2="81.20" stroke="#9dbfee" stroke-width="0.6" />
<rect x="410.00" y="69.10" width="5.30" height="7.40" fill="#3f88de" stroke="#2f70c4" stroke-width="0.35"/>
<line x1="410.00" y1="73.00" x2="415.30" y2="73.00" stroke="#1d4f9a80" stroke-width="0.7" />
<line x1="426.35" y1="43.30" x2="426.35" y2="53.80" stroke="#e58a9b" stroke-width="0.6" />
<line x1="426.35" y1="69.90" x2="426.35" y2="77.40" stroke="#e58a9b" stroke-width="0.6" />
<line x1="425.25" y1="43.30" x2="427.45" y2="43.30" stroke="#e58a9b" stroke-width="0.6" />
<line x1="425.25" y1="77.40" x2="427.45" y2="77.40" stroke="#e58a9b" stroke-width="0.6" />
<rect x="423.60" y="53.80" width="5.50" height="16.10" fill="#d50433" />
<line x1="423.60" y1="60.00" x2="429.10" y2="60.00" stroke="#7a001c55" stroke-width="0.7" />
<line x1="447.60" y1="71.00" x2="447.60" y2="71.00" stroke="#9dbfee" stroke-width="0.6" />
<line x1="447.60" y1="80.80" x2="447.60" y2="86.70" stroke="#9dbfee" stroke-width="0.6" />
<line x1="446.50" y1="71.00" x2="448.70" y2="71.00" stroke="#9dbfee" stroke-width="0.6" />
<line x1="446.50" y1="86.70" x2="448.70" y2="86.70" stroke="#9dbfee" stroke-width="0.6" />
<rect x="445.20" y="71.00" width="4.80" height="9.80" fill="#3f88de" stroke="#2f70c4" stroke-width="0.35"/>
<line x1="445.20" y1="76.00" x2="450.00" y2="76.00" stroke="#1d4f9a80" stroke-width="0.7" />
<circle cx="447.7" cy="57.5" r="1.0" fill="#3f88de"/>
<line x1="461.60" y1="26.30" x2="461.60" y2="45.40" stroke="#e58a9b" stroke-width="0.6" />
<line x1="461.60" y1="74.80" x2="461.60" y2="78.80" stroke="#e58a9b" stroke-width="0.6" />
<line x1="460.50" y1="26.30" x2="462.70" y2="26.30" stroke="#e58a9b" stroke-width="0.6" />
<line x1="460.50" y1="78.80" x2="462.70" y2="78.80" stroke="#e58a9b" stroke-width="0.6" />
<rect x="459.20" y="45.40" width="4.80" height="29.40" fill="#d50433" />
<line x1="459.20" y1="50.20" x2="464.00" y2="50.20" stroke="#7a001c55" stroke-width="0.7" />
<line x1="480.00" y1="81.90" x2="485.20" y2="81.90" stroke="#8a8fe0" stroke-width="0.9" />
<line x1="496.55" y1="62.20" x2="496.55" y2="65.00" stroke="#e58a9b" stroke-width="0.6" />
<line x1="496.55" y1="72.90" x2="496.55" y2="77.40" stroke="#e58a9b" stroke-width="0.6" />
<line x1="495.45" y1="62.20" x2="497.65" y2="62.20" stroke="#e58a9b" stroke-width="0.6" />
<line x1="495.45" y1="77.40" x2="497.65" y2="77.40" stroke="#e58a9b" stroke-width="0.6" />
<rect x="494.00" y="65.00" width="5.10" height="7.90" fill="#d50433" />
<line x1="494.00" y1="69.00" x2="499.10" y2="69.00" stroke="#7a001c55" stroke-width="0.7" />
<text transform="translate(526.00,21.20) scale(1.0,1.1)" x="0" y="0" font-size="6.2" text-anchor="middle" font-weight="bold" fill="#111" stroke="#111" stroke-width="0.1" font-family="Liberation Sans, sans-serif" >AD</text>
<text transform="translate(526.00,27.50) scale(1.0,1.1)" x="0" y="0" font-size="6.2" text-anchor="middle" font-weight="bold" fill="#111" stroke="#111" stroke-width="0.1" font-family="Liberation Sans, sans-serif" >Neuropath</text>
<rect x="517.70" y="30.60" width="4.80" height="4.80" fill="#3f88de" />
<rect x="517.70" y="37.50" width="4.80" height="4.80" fill="#d50433" />
<text transform="translate(523.40,35.70) scale(1.0,1.1)" x="0" y="0" font-size="5.45" text-anchor="start" font-weight="normal" fill="#333" stroke="#333" stroke-width="0.1" font-family="Liberation Sans, sans-serif" >low</text>
<text transform="translate(523.40,42.60) scale(1.0,1.1)" x="0" y="0" font-size="5.45" text-anchor="start" font-weight="normal" fill="#333" stroke="#333" stroke-width="0.1" font-family="Liberation Sans, sans-serif" >high</text>
<text transform="translate(360.80,17.00) scale(0.87,1.0)" x="0" y="0" font-size="12.5" text-anchor="start" font-weight="normal" fill="#222" stroke="#222" stroke-width="0.1" font-family="Liberation Sans, sans-serif" >C</text>
<line x1="215.50" y1="135.70" x2="320.20" y2="135.70" stroke="#eaeaea" stroke-width="0.9" />
<line x1="215.50" y1="148.80" x2="320.20" y2="148.80" stroke="#eaeaea" stroke-width="0.9" />
<line x1="215.50" y1="161.80" x2="320.20" y2="161.80" stroke="#eaeaea" stroke-width="0.9" />
<line x1="215.50" y1="174.90" x2="320.20" y2="174.90" stroke="#eaeaea" stroke-width="0.9" />
<line x1="215.50" y1="188.00" x2="320.20" y2="188.00" stroke="#eaeaea" stroke-width="0.9" />
<line x1="215.50" y1="201.00" x2="320.20" y2="201.00" stroke="#eaeaea" stroke-width="0.9" />
<line x1="215.50" y1="127.50" x2="215.50" y2="214.20" stroke="#d6d6d6" stroke-width="1.1" />
<line x1="215.50" y1="214.20" x2="320.20" y2="214.20" stroke="#d6d6d6" stroke-width="1.1" />
<text transform="translate(214.20,138.60) scale(1.0,1.17)" x="0" y="0" font-size="6.0" text-anchor="end" font-weight="normal" fill="#545454" stroke="#545454" stroke-width="0.03" font-family="Liberation Sans, sans-serif" >1200</text>
<text transform="translate(214.20,151.70) scale(1.0,1.17)" x="0" y="0" font-size="6.0" text-anchor="end" font-weight="normal" fill="#545454" stroke="#545454" stroke-width="0.03" font-family="Liberation Sans, sans-serif" >1000</text>
<text transform="translate(214.20,164.70) scale(1.0,1.17)" x="0" y="0" font-size="6.0" text-anchor="end" font-weight="normal" fill="#545454" stroke="#545454" stroke-width="0.03" font-family="Liberation Sans, sans-serif" >800</text>
<text transform="translate(214.20,177.80) scale(1.0,1.17)" x="0" y="0" font-size="6.0" text-anchor="end" font-weight="normal" fill="#545454" stroke="#545454" stroke-width="0.03" font-family="Liberation Sans, sans-serif" >600</text>
<text transform="translate(214.20,190.90) scale(1.0,1.17)" x="0" y="0" font-size="6.0" text-anchor="end" font-weight="normal" fill="#545454" stroke="#545454" stroke-width="0.03" font-family="Liberation Sans, sans-serif" >400</text>
<text transform="translate(214.20,203.90) scale(1.0,1.17)" x="0" y="0" font-size="6.0" text-anchor="end" font-weight="normal" fill="#545454" stroke="#545454" stroke-width="0.03" font-family="Liberation Sans, sans-serif" >200</text>
<text transform="translate(214.20,217.00) scale(1.0,1.17)" x="0" y="0" font-size="6.0" text-anchor="end" font-weight="normal" fill="#545454" stroke="#545454" stroke-width="0.03" font-family="Liberation Sans, sans-serif" >0</text>
<text transform="translate(233.30,221.80) scale(1.0,1.17)" x="0" y="0" font-size="6.0" text-anchor="middle" font-weight="normal" fill="#545454" stroke="#545454" stroke-width="0.03" font-family="Liberation Sans, sans-serif" >TT</text>
<text transform="translate(267.60,221.80) scale(1.0,1.17)" x="0" y="0" font-size="6.0" text-anchor="middle" font-weight="normal" fill="#545454" stroke="#545454" stroke-width="0.03" font-family="Liberation Sans, sans-serif" >TC</text>
<text transform="translate(301.80,221.80) scale(1.0,1.17)" x="0" y="0" font-size="6.0" text-anchor="middle" font-weight="normal" fill="#545454" stroke="#545454" stroke-width="0.03" font-family="Liberation Sans, sans-serif" >CC</text>
<text transform="translate(267.90,232.30) scale(1.0,1.04)" x="0" y="0" font-size="6.45" text-anchor="middle" font-weight="bold" fill="#111" stroke="#111" stroke-width="0.1" font-family="Liberation Sans, sans-serif" >rs35349669</text>
<text transform="translate(189.40,170.40) rotate(-90)" x="0" y="0" font-size="6.45" text-anchor="middle" font-weight="bold" fill="#111" stroke="#111" stroke-width="0.1" font-family="Liberation Sans, sans-serif">Expression of ex11-ex12</text>
<text transform="translate(195.90,170.60) rotate(-90)" x="0" y="0" font-size="6.45" text-anchor="middle" font-weight="bold" fill="#111" stroke="#111" stroke-width="0.1" font-family="Liberation Sans, sans-serif">(% ITGAM)</text>
<line x1="227.20" y1="177.20" x2="227.20" y2="179.90" stroke="#9dbfee" stroke-width="0.6" />
<line x1="227.20" y1="189.70" x2="227.20" y2="191.30" stroke="#9dbfee" stroke-width="0.6" />
<line x1="226.10" y1="177.20" x2="228.30" y2="177.20" stroke="#9dbfee" stroke-width="0.6" />
<line x1="226.10" y1="191.30" x2="228.30" y2="191.30" stroke="#9dbfee" stroke-width="0.6" />
<rect x="224.40" y="179.90" width="5.60" height="9.80" fill="#3f88de" stroke="#2f70c4" stroke-width="0.35"/>
<line x1="224.40" y1="186.00" x2="230.00" y2="186.00" stroke="#1d4f9a80" stroke-width="0.7" />
<line x1="240.55" y1="168.30" x2="240.55" y2="176.40" stroke="#e58a9b" stroke-width="0.6" />
<line x1="240.55" y1="185.80" x2="240.55" y2="186.80" stroke="#e58a9b" stroke-width="0.6" />
<line x1="239.45" y1="168.30" x2="241.65" y2="168.30" stroke="#e58a9b" stroke-width="0.6" />
<line x1="239.45" y1="186.80" x2="241.65" y2="186.80" stroke="#e58a9b" stroke-width="0.6" />
<rect x="238.10" y="176.40" width="4.90" height="9.40" fill="#d50433" />
<line x1="238.10" y1="184.10" x2="243.00" y2="184.10" stroke="#7a001c55" stroke-width="0.7" />
<line x1="261.15" y1="165.50" x2="261.15" y2="179.00" stroke="#9dbfee" stroke-width="0.6" />
<line x1="261.15" y1="189.70" x2="261.15" y2="195.40" stroke="#9dbfee" stroke-width="0.6" />
<line x1="260.05" y1="165.50" x2="262.25" y2="165.50" stroke="#9dbfee" stroke-width="0.6" />
<line x1="260.05" y1="195.40" x2="262.25" y2="195.40" stroke="#9dbfee" stroke-width="0.6" />
<rect x="258.70" y="179.00" width="4.90" height="10.70" fill="#3f88de" stroke="#2f70c4" stroke-width="0.35"/>
<line x1="258.70" y1="183.30" x2="263.60" y2="183.30" stroke="#1d4f9a80" stroke-width="0.7" />
<line x1="274.35" y1="135.80" x2="274.35" y2="156.70" stroke="#e58a9b" stroke-width="0.6" />
<line x1="274.35" y1="177.20" x2="274.35" y2="187.50" stroke="#e58a9b" stroke-width="0.6" />
<line x1="273.25" y1="135.80" x2="275.45" y2="135.80" stroke="#e58a9b" stroke-width="0.6" />
<line x1="273.25" y1="187.50" x2="275.45" y2="187.50" stroke="#e58a9b" stroke-width="0.6" />
<rect x="271.80" y="156.70" width="5.10" height="20.50" fill="#d50433" />
<line x1="271.80" y1="166.40" x2="276.90" y2="166.40" stroke="#7a001c55" stroke-width="0.7" />
<line x1="295.00" y1="167.20" x2="295.00" y2="168.90" stroke="#9dbfee" stroke-width="0.6" />
<line x1="295.00" y1="187.50" x2="295.00" y2="187.50" stroke="#9dbfee" stroke-width="0.6" />
<line x1="293.90" y1="167.20" x2="296.10" y2="167.20" stroke="#9dbfee" stroke-width="0.6" />
<line x1="293.90" y1="187.50" x2="296.10" y2="187.50" stroke="#9dbfee" stroke-width="0.6" />
<rect x="292.80" y="168.90" width="4.40" height="18.60" fill="#3f88de" stroke="#2f70c4" stroke-width="0.35"/>
<line x1="292.80" y1="183.40" x2="297.20" y2="183.40" stroke="#1d4f9a80" stroke-width="0.7" />
<line x1="308.50" y1="163.00" x2="308.50" y2="168.90" stroke="#e58a9b" stroke-width="0.6" />
<line x1="308.50" y1="178.30" x2="308.50" y2="190.70" stroke="#e58a9b" stroke-width="0.6" />
<line x1="307.40" y1="163.00" x2="309.60" y2="163.00" stroke="#e58a9b" stroke-width="0.6" />
<line x1="307.40" y1="190.70" x2="309.60" y2="190.70" stroke="#e58a9b" stroke-width="0.6" />
<rect x="305.90" y="168.90" width="5.20" height="9.40" fill="#d50433" />
<line x1="305.90" y1="172.00" x2="311.10" y2="172.00" stroke="#7a001c55" stroke-width="0.7" />
<text transform="translate(337.20,137.90) scale(1.0,1.1)" x="0" y="0" font-size="6.2" text-anchor="middle" font-weight="bold" fill="#111" stroke="#111" stroke-width="0.1" font-family="Liberation Sans, sans-serif" >AD</text>
<text transform="translate(337.20,144.10) scale(1.0,1.1)" x="0" y="0" font-size="6.2" text-anchor="middle" font-weight="bold" fill="#111" stroke="#111" stroke-width="0.1" font-family="Liberation Sans, sans-serif" >Neuropath</text>
<rect x="329.10" y="147.20" width="4.80" height="4.80" fill="#3f88de" />
<rect x="329.10" y="154.00" width="4.80" height="4.80" fill="#d50433" />
<text transform="translate(334.80,152.30) scale(1.0,1.1)" x="0" y="0" font-size="5.45" text-anchor="start" font-weight="normal" fill="#333" stroke="#333" stroke-width="0.1" font-family="Liberation Sans, sans-serif" >low</text>
<text transform="translate(334.80,159.10) scale(1.0,1.1)" x="0" y="0" font-size="5.45" text-anchor="start" font-weight="normal" fill="#333" stroke="#333" stroke-width="0.1" font-family="Liberation Sans, sans-serif" >high</text>
<text transform="translate(176.40,132.60) scale(0.87,1.0)" x="0" y="0" font-size="11.6" text-anchor="start" font-weight="normal" fill="#222" stroke="#222" stroke-width="0.1" font-family="Liberation Sans, sans-serif" >E</text>
<line x1="400.40" y1="135.80" x2="505.80" y2="135.80" stroke="#eaeaea" stroke-width="0.9" />
<line x1="400.40" y1="148.70" x2="505.80" y2="148.70" stroke="#eaeaea" stroke-width="0.9" />
<line x1="400.40" y1="161.60" x2="505.80" y2="161.60" stroke="#eaeaea" stroke-width="0.9" />
<line x1="400.40" y1="174.60" x2="505.80" y2="174.60" stroke="#eaeaea" stroke-width="0.9" />
<line x1="400.40" y1="187.50" x2="505.80" y2="187.50" stroke="#eaeaea" stroke-width="0.9" />
<line x1="400.40" y1="200.40" x2="505.80" y2="200.40" stroke="#eaeaea" stroke-width="0.9" />
<line x1="400.40" y1="126.60" x2="400.40" y2="213.40" stroke="#d6d6d6" stroke-width="1.1" />
<line x1="400.40" y1="213.40" x2="505.80" y2="213.40" stroke="#d6d6d6" stroke-width="1.1" />
<text transform="translate(399.10,138.70) scale(1.0,1.17)" x="0" y="0" font-size="6.0" text-anchor="end" font-weight="normal" fill="#545454" stroke="#545454" stroke-width="0.03" font-family="Liberation Sans, sans-serif" >1200</text>
<text transform="translate(399.10,151.60) scale(1.0,1.17)" x="0" y="0" font-size="6.0" text-anchor="end" font-weight="normal" fill="#545454" stroke="#545454" stroke-width="0.03" font-family="Liberation Sans, sans-serif" >1000</text>
<text transform="translate(399.10,164.50) scale(1.0,1.17)" x="0" y="0" font-size="6.0" text-anchor="end" font-weight="normal" fill="#545454" stroke="#545454" stroke-width="0.03" font-family="Liberation Sans, sans-serif" >800</text>
<text transform="translate(399.10,177.50) scale(1.0,1.17)" x="0" y="0" font-size="6.0" text-anchor="end" font-weight="normal" fill="#545454" stroke="#545454" stroke-width="0.03" font-family="Liberation Sans, sans-serif" >600</text>
<text transform="translate(399.10,190.40) scale(1.0,1.17)" x="0" y="0" font-size="6.0" text-anchor="end" font-weight="normal" fill="#545454" stroke="#545454" stroke-width="0.03" font-family="Liberation Sans, sans-serif" >400</text>
<text transform="translate(399.10,203.30) scale(1.0,1.17)" x="0" y="0" font-size="6.0" text-anchor="end" font-weight="normal" fill="#545454" stroke="#545454" stroke-width="0.03" font-family="Liberation Sans, sans-serif" >200</text>
<text transform="translate(399.10,216.30) scale(1.0,1.17)" x="0" y="0" font-size="6.0" text-anchor="end" font-weight="normal" fill="#545454" stroke="#545454" stroke-width="0.03" font-family="Liberation Sans, sans-serif" >0</text>
<text transform="translate(418.60,220.70) scale(1.0,1.17)" x="0" y="0" font-size="6.0" text-anchor="middle" font-weight="normal" fill="#545454" stroke="#545454" stroke-width="0.03" font-family="Liberation Sans, sans-serif" >GG</text>
<text transform="translate(452.90,220.70) scale(1.0,1.17)" x="0" y="0" font-size="6.0" text-anchor="middle" font-weight="normal" fill="#545454" stroke="#545454" stroke-width="0.03" font-family="Liberation Sans, sans-serif" >GC</text>
<text transform="translate(486.70,220.70) scale(1.0,1.17)" x="0" y="0" font-size="6.0" text-anchor="middle" font-weight="normal" fill="#545454" stroke="#545454" stroke-width="0.03" font-family="Liberation Sans, sans-serif" >CC</text>
<text transform="translate(453.20,232.10) scale(1.0,1.04)" x="0" y="0" font-size="6.45" text-anchor="middle" font-weight="bold" fill="#111" stroke="#111" stroke-width="0.1" font-family="Liberation Sans, sans-serif" >rs10933431</text>
<text transform="translate(375.10,170.50) rotate(-90)" x="0" y="0" font-size="6.45" text-anchor="middle" font-weight="bold" fill="#111" stroke="#111" stroke-width="0.1" font-family="Liberation Sans, sans-serif">Expression of ex11-ex12</text>
<text transform="translate(381.40,170.60) rotate(-90)" x="0" y="0" font-size="6.45" text-anchor="middle" font-weight="bold" fill="#111" stroke="#111" stroke-width="0.1" font-family="Liberation Sans, sans-serif">(% ITGAM)</text>
<line x1="412.25" y1="166.60" x2="412.25" y2="176.00" stroke="#9dbfee" stroke-width="0.6" />
<line x1="412.25" y1="186.70" x2="412.25" y2="192.70" stroke="#9dbfee" stroke-width="0.6" />
<line x1="411.15" y1="166.60" x2="413.35" y2="166.60" stroke="#9dbfee" stroke-width="0.6" />
<line x1="411.15" y1="192.70" x2="413.35" y2="192.70" stroke="#9dbfee" stroke-width="0.6" />
<rect x="409.80" y="176.00" width="4.90" height="10.70" fill="#3f88de" stroke="#2f70c4" stroke-width="0.35"/>
<line x1="409.80" y1="183.00" x2="414.70" y2="183.00" stroke="#1d4f9a80" stroke-width="0.7" />
<line x1="425.55" y1="155.50" x2="425.55" y2="165.20" stroke="#e58a9b" stroke-width="0.6" />
<line x1="425.55" y1="179.50" x2="425.55" y2="189.50" stroke="#e58a9b" stroke-width="0.6" />
<line x1="424.45" y1="155.50" x2="426.65" y2="155.50" stroke="#e58a9b" stroke-width="0.6" />
<line x1="424.45" y1="189.50" x2="426.65" y2="189.50" stroke="#e58a9b" stroke-width="0.6" />
<rect x="423.00" y="165.20" width="5.10" height="14.30" fill="#d50433" />
<line x1="423.00" y1="170.80" x2="428.10" y2="170.80" stroke="#7a001c55" stroke-width="0.7" />
<line x1="446.30" y1="165.30" x2="446.30" y2="178.10" stroke="#9dbfee" stroke-width="0.6" />
<line x1="446.30" y1="189.10" x2="446.30" y2="195.30" stroke="#9dbfee" stroke-width="0.6" />
<line x1="445.20" y1="165.30" x2="447.40" y2="165.30" stroke="#9dbfee" stroke-width="0.6" />
<line x1="445.20" y1="195.30" x2="447.40" y2="195.30" stroke="#9dbfee" stroke-width="0.6" />
<rect x="443.90" y="178.10" width="4.80" height="11.00" fill="#3f88de" stroke="#2f70c4" stroke-width="0.35"/>
<line x1="443.90" y1="182.70" x2="448.70" y2="182.70" stroke="#1d4f9a80" stroke-width="0.7" />
<line x1="459.50" y1="135.20" x2="459.50" y2="155.80" stroke="#e58a9b" stroke-width="0.6" />
<line x1="459.50" y1="184.70" x2="459.50" y2="186.20" stroke="#e58a9b" stroke-width="0.6" />
<line x1="458.40" y1="135.20" x2="460.60" y2="135.20" stroke="#e58a9b" stroke-width="0.6" />
<line x1="458.40" y1="186.20" x2="460.60" y2="186.20" stroke="#e58a9b" stroke-width="0.6" />
<rect x="457.10" y="155.80" width="4.80" height="28.90" fill="#d50433" />
<line x1="457.10" y1="166.80" x2="461.90" y2="166.80" stroke="#7a001c55" stroke-width="0.7" />
<line x1="478.00" y1="190.60" x2="482.70" y2="190.60" stroke="#8a8fe0" stroke-width="0.9" />
<line x1="493.65" y1="172.60" x2="493.65" y2="177.20" stroke="#e58a9b" stroke-width="0.6" />
<line x1="493.65" y1="184.70" x2="493.65" y2="186.90" stroke="#e58a9b" stroke-width="0.6" />
<line x1="492.55" y1="172.60" x2="494.75" y2="172.60" stroke="#e58a9b" stroke-width="0.6" />
<line x1="492.55" y1="186.90" x2="494.75" y2="186.90" stroke="#e58a9b" stroke-width="0.6" />
<rect x="491.00" y="177.20" width="5.30" height="7.50" fill="#d50433" />
<line x1="491.00" y1="181.00" x2="496.30" y2="181.00" stroke="#7a001c55" stroke-width="0.7" />
<text transform="translate(522.40,136.60) scale(1.0,1.1)" x="0" y="0" font-size="6.2" text-anchor="middle" font-weight="bold" fill="#111" stroke="#111" stroke-width="0.1" font-family="Liberation Sans, sans-serif" >AD</text>
<text transform="translate(522.40,142.80) scale(1.0,1.1)" x="0" y="0" font-size="6.2" text-anchor="middle" font-weight="bold" fill="#111" stroke="#111" stroke-width="0.1" font-family="Liberation Sans, sans-serif" >Neuropath</text>
<rect x="514.30" y="146.80" width="4.80" height="4.80" fill="#3f88de" />
<rect x="514.30" y="153.40" width="4.80" height="4.80" fill="#d50433" />
<text transform="translate(520.00,151.90) scale(1.0,1.1)" x="0" y="0" font-size="5.45" text-anchor="start" font-weight="normal" fill="#333" stroke="#333" stroke-width="0.1" font-family="Liberation Sans, sans-serif" >low</text>
<text transform="translate(520.00,158.50) scale(1.0,1.1)" x="0" y="0" font-size="5.45" text-anchor="start" font-weight="normal" fill="#333" stroke="#333" stroke-width="0.1" font-family="Liberation Sans, sans-serif" >high</text>
<text transform="translate(361.60,133.00) scale(0.87,1.0)" x="0" y="0" font-size="11.6" text-anchor="start" font-weight="normal" fill="#222" stroke="#222" stroke-width="0.1" font-family="Liberation Sans, sans-serif" >F</text>
<line x1="215.20" y1="253.00" x2="324.00" y2="253.00" stroke="#eaeaea" stroke-width="0.9" />
<line x1="215.20" y1="268.60" x2="324.00" y2="268.60" stroke="#eaeaea" stroke-width="0.9" />
<line x1="215.20" y1="284.30" x2="324.00" y2="284.30" stroke="#eaeaea" stroke-width="0.9" />
<line x1="215.20" y1="299.90" x2="324.00" y2="299.90" stroke="#eaeaea" stroke-width="0.9" />
<line x1="215.20" y1="315.60" x2="324.00" y2="315.60" stroke="#eaeaea" stroke-width="0.9" />
<line x1="215.20" y1="244.20" x2="215.20" y2="331.20" stroke="#d6d6d6" stroke-width="1.1" />
<line x1="215.20" y1="331.20" x2="324.00" y2="331.20" stroke="#d6d6d6" stroke-width="1.1" />
<text transform="translate(213.90,255.90) scale(1.0,1.17)" x="0" y="0" font-size="6.0" text-anchor="end" font-weight="normal" fill="#545454" stroke="#545454" stroke-width="0.03" font-family="Liberation Sans, sans-serif" >250</text>
<text transform="translate(213.90,271.50) scale(1.0,1.17)" x="0" y="0" font-size="6.0" text-anchor="end" font-weight="normal" fill="#545454" stroke="#545454" stroke-width="0.03" font-family="Liberation Sans, sans-serif" >200</text>
<text transform="translate(213.90,287.20) scale(1.0,1.17)" x="0" y="0" font-size="6.0" text-anchor="end" font-weight="normal" fill="#545454" stroke="#545454" stroke-width="0.03" font-family="Liberation Sans, sans-serif" >150</text>
<text transform="translate(213.90,302.80) scale(1.0,1.17)" x="0" y="0" font-size="6.0" text-anchor="end" font-weight="normal" fill="#545454" stroke="#545454" stroke-width="0.03" font-family="Liberation Sans, sans-serif" >100</text>
<text transform="translate(213.90,318.50) scale(1.0,1.17)" x="0" y="0" font-size="6.0" text-anchor="end" font-weight="normal" fill="#545454" stroke="#545454" stroke-width="0.03" font-family="Liberation Sans, sans-serif" >50</text>
<text transform="translate(213.90,334.10) scale(1.0,1.17)" x="0" y="0" font-size="6.0" text-anchor="end" font-weight="normal" fill="#545454" stroke="#545454" stroke-width="0.03" font-family="Liberation Sans, sans-serif" >0</text>
<text transform="translate(234.80,338.70) scale(1.0,1.17)" x="0" y="0" font-size="6.0" text-anchor="middle" font-weight="normal" fill="#545454" stroke="#545454" stroke-width="0.03" font-family="Liberation Sans, sans-serif" >TT</text>
<text transform="translate(269.80,338.70) scale(1.0,1.17)" x="0" y="0" font-size="6.0" text-anchor="middle" font-weight="normal" fill="#545454" stroke="#545454" stroke-width="0.03" font-family="Liberation Sans, sans-serif" >TC</text>
<text transform="translate(304.60,338.70) scale(1.0,1.17)" x="0" y="0" font-size="6.0" text-anchor="middle" font-weight="normal" fill="#545454" stroke="#545454" stroke-width="0.03" font-family="Liberation Sans, sans-serif" >CC</text>
<text transform="translate(269.60,349.40) scale(1.0,1.04)" x="0" y="0" font-size="6.45" text-anchor="middle" font-weight="bold" fill="#111" stroke="#111" stroke-width="0.1" font-family="Liberation Sans, sans-serif" >rs35349669</text>
<text transform="translate(192.70,287.80) rotate(-90)" x="0" y="0" font-size="6.45" text-anchor="middle" font-weight="bold" fill="#111" stroke="#111" stroke-width="0.1" font-family="Liberation Sans, sans-serif">Expression of in14-ex16 (%</text>
<text transform="translate(199.10,287.20) rotate(-90)" x="0" y="0" font-size="6.45" text-anchor="middle" font-weight="bold" fill="#111" stroke="#111" stroke-width="0.1" font-family="Liberation Sans, sans-serif">ITGAM)</text>
<line x1="227.65" y1="305.20" x2="227.65" y2="312.10" stroke="#9dbfee" stroke-width="0.6" />
<line x1="227.65" y1="322.90" x2="227.65" y2="324.00" stroke="#9dbfee" stroke-width="0.6" />
<line x1="226.55" y1="305.20" x2="228.75" y2="305.20" stroke="#9dbfee" stroke-width="0.6" />
<line x1="226.55" y1="324.00" x2="228.75" y2="324.00" stroke="#9dbfee" stroke-width="0.6" />
<rect x="225.30" y="312.10" width="4.70" height="10.80" fill="#3f88de" stroke="#2f70c4" stroke-width="0.35"/>
<line x1="225.30" y1="321.50" x2="230.00" y2="321.50" stroke="#1d4f9a80" stroke-width="0.7" />
<line x1="241.50" y1="288.60" x2="241.50" y2="295.00" stroke="#e58a9b" stroke-width="0.6" />
<line x1="241.50" y1="309.10" x2="241.50" y2="309.40" stroke="#e58a9b" stroke-width="0.6" />
<line x1="240.40" y1="288.60" x2="242.60" y2="288.60" stroke="#e58a9b" stroke-width="0.6" />
<line x1="240.40" y1="309.40" x2="242.60" y2="309.40" stroke="#e58a9b" stroke-width="0.6" />
<rect x="239.00" y="295.00" width="5.00" height="14.10" fill="#d50433" />
<line x1="239.00" y1="301.00" x2="244.00" y2="301.00" stroke="#7a001c55" stroke-width="0.7" />
<line x1="262.25" y1="298.40" x2="262.25" y2="307.50" stroke="#9dbfee" stroke-width="0.6" />
<line x1="262.25" y1="318.70" x2="262.25" y2="327.40" stroke="#9dbfee" stroke-width="0.6" />
<line x1="261.15" y1="298.40" x2="263.35" y2="298.40" stroke="#9dbfee" stroke-width="0.6" />
<line x1="261.15" y1="327.40" x2="263.35" y2="327.40" stroke="#9dbfee" stroke-width="0.6" />
<rect x="259.80" y="307.50" width="4.90" height="11.20" fill="#3f88de" stroke="#2f70c4" stroke-width="0.35"/>
<line x1="259.80" y1="315.20" x2="264.70" y2="315.20" stroke="#1d4f9a80" stroke-width="0.7" />
<line x1="276.30" y1="268.30" x2="276.30" y2="290.00" stroke="#e58a9b" stroke-width="0.6" />
<line x1="276.30" y1="309.00" x2="276.30" y2="321.60" stroke="#e58a9b" stroke-width="0.6" />
<line x1="275.20" y1="268.30" x2="277.40" y2="268.30" stroke="#e58a9b" stroke-width="0.6" />
<line x1="275.20" y1="321.60" x2="277.40" y2="321.60" stroke="#e58a9b" stroke-width="0.6" />
<rect x="273.80" y="290.00" width="5.00" height="19.00" fill="#d50433" />
<line x1="273.80" y1="300.70" x2="278.80" y2="300.70" stroke="#7a001c55" stroke-width="0.7" />
<line x1="297.65" y1="304.20" x2="297.65" y2="309.10" stroke="#9dbfee" stroke-width="0.6" />
<line x1="297.65" y1="320.20" x2="297.65" y2="320.50" stroke="#9dbfee" stroke-width="0.6" />
<line x1="296.55" y1="304.20" x2="298.75" y2="304.20" stroke="#9dbfee" stroke-width="0.6" />
<line x1="296.55" y1="320.50" x2="298.75" y2="320.50" stroke="#9dbfee" stroke-width="0.6" />
<rect x="295.30" y="309.10" width="4.70" height="11.10" fill="#3f88de" stroke="#2f70c4" stroke-width="0.35"/>
<line x1="295.30" y1="313.90" x2="300.00" y2="313.90" stroke="#1d4f9a80" stroke-width="0.7" />
<line x1="311.50" y1="293.40" x2="311.50" y2="295.00" stroke="#e58a9b" stroke-width="0.6" />
<line x1="311.50" y1="303.80" x2="311.50" y2="311.90" stroke="#e58a9b" stroke-width="0.6" />
<line x1="310.40" y1="293.40" x2="312.60" y2="293.40" stroke="#e58a9b" stroke-width="0.6" />
<line x1="310.40" y1="311.90" x2="312.60" y2="311.90" stroke="#e58a9b" stroke-width="0.6" />
<rect x="309.00" y="295.00" width="5.00" height="8.80" fill="#d50433" />
<line x1="309.00" y1="299.40" x2="314.00" y2="299.40" stroke="#7a001c55" stroke-width="0.7" />
<text transform="translate(340.60,255.00) scale(1.0,1.1)" x="0" y="0" font-size="6.2" text-anchor="middle" font-weight="bold" fill="#111" stroke="#111" stroke-width="0.1" font-family="Liberation Sans, sans-serif" >AD</text>
<text transform="translate(340.60,260.90) scale(1.0,1.1)" x="0" y="0" font-size="6.2" text-anchor="middle" font-weight="bold" fill="#111" stroke="#111" stroke-width="0.1" font-family="Liberation Sans, sans-serif" >Neuropath</text>
<rect x="332.50" y="264.70" width="4.80" height="4.80" fill="#3f88de" />
<rect x="332.50" y="271.40" width="4.80" height="4.80" fill="#d50433" />
<text transform="translate(338.20,269.80) scale(1.0,1.1)" x="0" y="0" font-size="5.45" text-anchor="start" font-weight="normal" fill="#333" stroke="#333" stroke-width="0.1" font-family="Liberation Sans, sans-serif" >low</text>
<text transform="translate(338.20,276.50) scale(1.0,1.1)" x="0" y="0" font-size="5.45" text-anchor="start" font-weight="normal" fill="#333" stroke="#333" stroke-width="0.1" font-family="Liberation Sans, sans-serif" >high</text>
<text transform="translate(176.20,250.40) scale(0.87,1.0)" x="0" y="0" font-size="11.6" text-anchor="start" font-weight="normal" fill="#222" stroke="#222" stroke-width="0.1" font-family="Liberation Sans, sans-serif" >H</text>
<line x1="400.40" y1="253.00" x2="508.50" y2="253.00" stroke="#eaeaea" stroke-width="0.9" />
<line x1="400.40" y1="268.60" x2="508.50" y2="268.60" stroke="#eaeaea" stroke-width="0.9" />
<line x1="400.40" y1="284.20" x2="508.50" y2="284.20" stroke="#eaeaea" stroke-width="0.9" />
<line x1="400.40" y1="299.80" x2="508.50" y2="299.80" stroke="#eaeaea" stroke-width="0.9" />
<line x1="400.40" y1="315.40" x2="508.50" y2="315.40" stroke="#eaeaea" stroke-width="0.9" />
<line x1="400.40" y1="244.20" x2="400.40" y2="331.00" stroke="#d6d6d6" stroke-width="1.1" />
<line x1="400.40" y1="331.00" x2="508.50" y2="331.00" stroke="#d6d6d6" stroke-width="1.1" />
<text transform="translate(399.10,255.90) scale(1.0,1.17)" x="0" y="0" font-size="6.0" text-anchor="end" font-weight="normal" fill="#545454" stroke="#545454" stroke-width="0.03" font-family="Liberation Sans, sans-serif" >250</text>
<text transform="translate(399.10,271.50) scale(1.0,1.17)" x="0" y="0" font-size="6.0" text-anchor="end" font-weight="normal" fill="#545454" stroke="#545454" stroke-width="0.03" font-family="Liberation Sans, sans-serif" >200</text>
<text transform="translate(399.10,287.10) scale(1.0,1.17)" x="0" y="0" font-size="6.0" text-anchor="end" font-weight="normal" fill="#545454" stroke="#545454" stroke-width="0.03" font-family="Liberation Sans, sans-serif" >150</text>
<text transform="translate(399.10,302.70) scale(1.0,1.17)" x="0" y="0" font-size="6.0" text-anchor="end" font-weight="normal" fill="#545454" stroke="#545454" stroke-width="0.03" font-family="Liberation Sans, sans-serif" >100</text>
<text transform="translate(399.10,318.30) scale(1.0,1.17)" x="0" y="0" font-size="6.0" text-anchor="end" font-weight="normal" fill="#545454" stroke="#545454" stroke-width="0.03" font-family="Liberation Sans, sans-serif" >50</text>
<text transform="translate(399.10,333.90) scale(1.0,1.17)" x="0" y="0" font-size="6.0" text-anchor="end" font-weight="normal" fill="#545454" stroke="#545454" stroke-width="0.03" font-family="Liberation Sans, sans-serif" >0</text>
<text transform="translate(419.50,338.60) scale(1.0,1.17)" x="0" y="0" font-size="6.0" text-anchor="middle" font-weight="normal" fill="#545454" stroke="#545454" stroke-width="0.03" font-family="Liberation Sans, sans-serif" >GG</text>
<text transform="translate(454.40,338.60) scale(1.0,1.17)" x="0" y="0" font-size="6.0" text-anchor="middle" font-weight="normal" fill="#545454" stroke="#545454" stroke-width="0.03" font-family="Liberation Sans, sans-serif" >GC</text>
<text transform="translate(489.30,338.60) scale(1.0,1.17)" x="0" y="0" font-size="6.0" text-anchor="middle" font-weight="normal" fill="#545454" stroke="#545454" stroke-width="0.03" font-family="Liberation Sans, sans-serif" >CC</text>
<text transform="translate(454.40,349.80) scale(1.0,1.04)" x="0" y="0" font-size="6.45" text-anchor="middle" font-weight="bold" fill="#111" stroke="#111" stroke-width="0.1" font-family="Liberation Sans, sans-serif" >rs10933431</text>
<text transform="translate(377.90,287.80) rotate(-90)" x="0" y="0" font-size="6.45" text-anchor="middle" font-weight="bold" fill="#111" stroke="#111" stroke-width="0.1" font-family="Liberation Sans, sans-serif">Expression of in14-ex16 (%</text>
<text transform="translate(384.30,287.20) rotate(-90)" x="0" y="0" font-size="6.45" text-anchor="middle" font-weight="bold" fill="#111" stroke="#111" stroke-width="0.1" font-family="Liberation Sans, sans-serif">ITGAM)</text>
<line x1="412.40" y1="298.30" x2="412.40" y2="309.10" stroke="#9dbfee" stroke-width="0.6" />
<line x1="412.40" y1="320.20" x2="412.40" y2="321.60" stroke="#9dbfee" stroke-width="0.6" />
<line x1="411.30" y1="298.30" x2="413.50" y2="298.30" stroke="#9dbfee" stroke-width="0.6" />
<line x1="411.30" y1="321.60" x2="413.50" y2="321.60" stroke="#9dbfee" stroke-width="0.6" />
<rect x="409.80" y="309.10" width="5.20" height="11.10" fill="#3f88de" stroke="#2f70c4" stroke-width="0.35"/>
<line x1="409.80" y1="313.20" x2="415.00" y2="313.20" stroke="#1d4f9a80" stroke-width="0.7" />
<line x1="426.35" y1="288.60" x2="426.35" y2="295.00" stroke="#e58a9b" stroke-width="0.6" />
<line x1="426.35" y1="309.40" x2="426.35" y2="321.30" stroke="#e58a9b" stroke-width="0.6" />
<line x1="425.25" y1="288.60" x2="427.45" y2="288.60" stroke="#e58a9b" stroke-width="0.6" />
<line x1="425.25" y1="321.30" x2="427.45" y2="321.30" stroke="#e58a9b" stroke-width="0.6" />
<rect x="423.70" y="295.00" width="5.30" height="14.40" fill="#d50433" />
<line x1="423.70" y1="301.50" x2="429.00" y2="301.50" stroke="#7a001c55" stroke-width="0.7" />
<line x1="447.25" y1="303.00" x2="447.25" y2="308.80" stroke="#9dbfee" stroke-width="0.6" />
<line x1="447.25" y1="320.10" x2="447.25" y2="327.40" stroke="#9dbfee" stroke-width="0.6" />
<line x1="446.15" y1="303.00" x2="448.35" y2="303.00" stroke="#9dbfee" stroke-width="0.6" />
<line x1="446.15" y1="327.40" x2="448.35" y2="327.40" stroke="#9dbfee" stroke-width="0.6" />
<rect x="444.80" y="308.80" width="4.90" height="11.30" fill="#3f88de" stroke="#2f70c4" stroke-width="0.35"/>
<line x1="444.80" y1="317.20" x2="449.70" y2="317.20" stroke="#1d4f9a80" stroke-width="0.7" />
<line x1="461.30" y1="268.30" x2="461.30" y2="285.80" stroke="#e58a9b" stroke-width="0.6" />
<line x1="461.30" y1="306.10" x2="461.30" y2="309.40" stroke="#e58a9b" stroke-width="0.6" />
<line x1="460.20" y1="268.30" x2="462.40" y2="268.30" stroke="#e58a9b" stroke-width="0.6" />
<line x1="460.20" y1="309.40" x2="462.40" y2="309.40" stroke="#e58a9b" stroke-width="0.6" />
<rect x="458.80" y="285.80" width="5.00" height="20.30" fill="#d50433" />
<line x1="458.80" y1="297.80" x2="463.80" y2="297.80" stroke="#7a001c55" stroke-width="0.7" />
<line x1="480.10" y1="324.30" x2="484.50" y2="324.30" stroke="#8a8fe0" stroke-width="0.9" />
<line x1="496.45" y1="276.80" x2="496.45" y2="285.90" stroke="#e58a9b" stroke-width="0.6" />
<line x1="496.45" y1="305.90" x2="496.45" y2="316.10" stroke="#e58a9b" stroke-width="0.6" />
<line x1="495.35" y1="276.80" x2="497.55" y2="276.80" stroke="#e58a9b" stroke-width="0.6" />
<line x1="495.35" y1="316.10" x2="497.55" y2="316.10" stroke="#e58a9b" stroke-width="0.6" />
<rect x="493.80" y="285.90" width="5.30" height="20.00" fill="#d50433" />
<line x1="493.80" y1="296.00" x2="499.10" y2="296.00" stroke="#7a001c55" stroke-width="0.7" />
<text transform="translate(525.50,255.00) scale(1.0,1.1)" x="0" y="0" font-size="6.2" text-anchor="middle" font-weight="bold" fill="#111" stroke="#111" stroke-width="0.1" font-family="Liberation Sans, sans-serif" >AD</text>
<text transform="translate(525.50,260.90) scale(1.0,1.1)" x="0" y="0" font-size="6.2" text-anchor="middle" font-weight="bold" fill="#111" stroke="#111" stroke-width="0.1" font-family="Liberation Sans, sans-serif" >Neuropath</text>
<rect x="517.40" y="264.70" width="4.80" height="4.80" fill="#3f88de" />
<rect x="517.40" y="271.20" width="4.80" height="4.80" fill="#d50433" />
<text transform="translate(523.10,269.80) scale(1.0,1.1)" x="0" y="0" font-size="5.45" text-anchor="start" font-weight="normal" fill="#333" stroke="#333" stroke-width="0.1" font-family="Liberation Sans, sans-serif" >low</text>
<text transform="translate(523.10,276.30) scale(1.0,1.1)" x="0" y="0" font-size="5.45" text-anchor="start" font-weight="normal" fill="#333" stroke="#333" stroke-width="0.1" font-family="Liberation Sans, sans-serif" >high</text>
<text x="360.90" y="250.20" font-size="11.6" text-anchor="start" font-weight="bold" fill="#222" stroke="#222" stroke-width="0.1" font-family="Liberation Serif, sans-serif" >I</text>
</g>
</svg>
</body></html>
